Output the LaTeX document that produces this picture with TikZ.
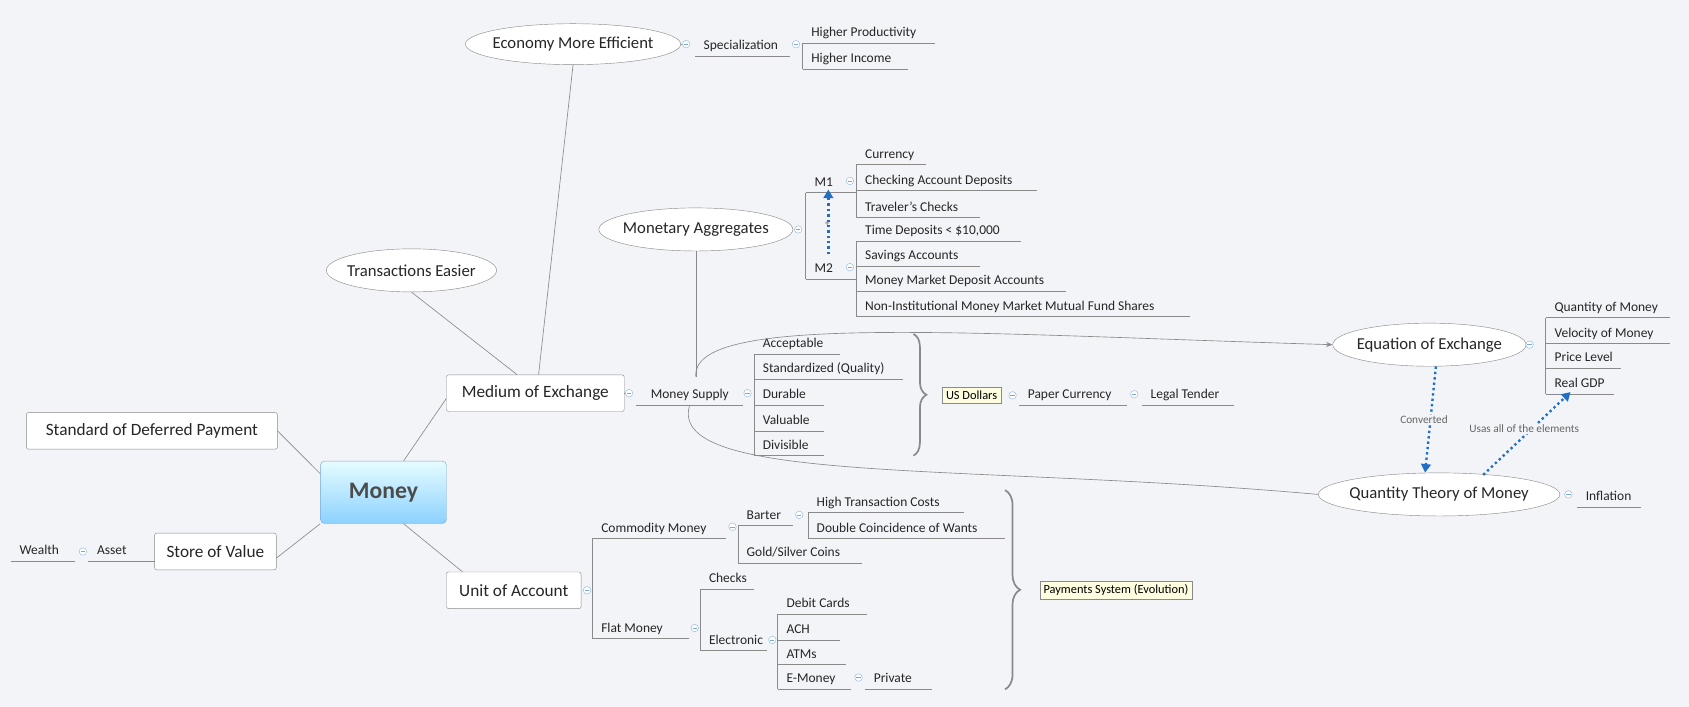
\documentclass[tikz,border=0pt]{standalone}
\usepackage{fontspec}
\setmainfont{Carlito}
\usetikzlibrary{shapes.geometric,arrows.meta,decorations.pathreplacing}
\definecolor{bg}{HTML}{F3F4F8}
\definecolor{ln}{HTML}{8A8A8A}
\definecolor{bl}{HTML}{1F6FC4}
\tikzset{
 big/.style={draw=ln,fill=white,font=\fontsize{16}{18}\selectfont,text=black!85},
 ell/.style={big,ellipse,inner sep=-4pt,font=\fontsize{15.5}{17}\selectfont},
 box/.style={big,rounded corners=2pt,inner sep=0pt},
 sm/.style={font=\fontsize{12.5}{14}\selectfont,text=black!85,inner sep=0pt,anchor=base west},
 conn/.style={draw=ln,line width=0.6pt},
 col/.style={circle,draw=bl!50,fill=white,minimum size=7pt,inner sep=0pt,path picture={\draw[bl!60] ([xshift=-2pt]path picture bounding box.center)--([xshift=2pt]path picture bounding box.center);}},
 dot/.style={draw=bl,line width=2.2pt,dash pattern=on 2.2pt off 2.8pt,-{Triangle[length=8pt,width=9pt]}},
 ybox/.style={draw=ln,fill=yellow!12,font=\fontsize{11.5}{13}\selectfont,inner sep=3.5pt},
 brc/.style={draw=ln,line width=1.6pt,decorate},
}
\newcommand{\myleaf}[5]{\draw[conn] (#2,#3)--(#4,#3); \node[sm] (#1) at (#2+8,#3-6) {#5};}
\begin{document}
\begin{tikzpicture}[x=1pt,y=-1pt]
\fill[bg] (0,0) rectangle (1568,656);
\useasboundingbox (0,0) rectangle (1568,656);
% Money
\node[draw=bl!60,rounded corners=4pt,minimum width=117pt,minimum height=58pt,top color=blue!10!cyan!10,bottom color=blue!40!cyan!45,font=\fontsize{22}{24}\selectfont\bfseries,text=black!70] (money) at (356,457) {Money};
% main boxes
\node[box,minimum width=165pt,minimum height=34pt] (moe) at (497,365) {Medium of Exchange};
\node[box,minimum width=233pt,minimum height=34pt] (sdp) at (141,400) {Standard of Deferred Payment};
\node[box,minimum width=113pt,minimum height=34pt] (sov) at (200,512) {Store of Value};
\node[box,minimum width=125pt,minimum height=34pt] (uoa) at (477,548) {Unit of Account};
\node[ell,minimum width=190pt,minimum height=38pt] (eme) at (532,41) {Economy More Efficient};
\node[ell,minimum width=158pt,minimum height=40pt] (te) at (382,251) {Transactions Easier};
\node[ell,minimum width=176pt,minimum height=40pt] (ma) at (646,213) {Monetary Aggregates};
\node[ell,minimum width=170pt,minimum height=40pt] (eoe) at (1327,320) {Equation of Exchange};
\node[ell,minimum width=200pt,minimum height=40pt] (qtm) at (1336,459) {Quantity Theory of Money};
% main connectors
\draw[conn] ([xshift=-40pt]money.north east) -- (moe.west|-0,370);
\draw[conn] ([xshift=-40pt]money.south east) -- ([xshift=15pt]uoa.north west);
\draw[conn] ([yshift=-12pt]money.north west) -- (sdp.east);
\draw[conn] (money.south west) -- ([yshift=-6pt]sov.east);
\draw[conn] ([xshift=3pt]moe.north) -- (eme.south);
\draw[conn] ([xshift=-17pt]moe.north) -- (te.south);
% Economy more efficient
\node[col] (c1) at (637,41) {};
\draw[conn] (eme.east)--(c1);
\node[sm] (spec) at (653,46) {Specialization};
\draw[conn] (645,52)--(733,52);
\node[col] (c2) at (739,41) {};
\draw[conn] (745,40)--(745,64);
\myleaf{hp}{745}{40}{868}{Higher Productivity}
\myleaf{hi}{745}{64}{843}{Higher Income}
% Monetary aggregates
\node[col] (c3) at (741,213) {};
\draw[conn] (748,179)--(748,259);
\myleaf{m1}{748}{179}{795}{M1}
\myleaf{m2}{748}{259}{795}{M2}
\node[col] at (789,168) {};
\node[col] at (789,248) {};
\draw[conn] (795,153)--(795,202);
\myleaf{cur}{795}{153}{860}{Currency}
\myleaf{cad}{795}{177}{963}{Checking Account Deposits}
\myleaf{tc}{795}{202}{910}{Traveler's Checks}
\draw[conn] (795,224)--(795,294);
\myleaf{td}{795}{224}{948}{Time Deposits < \$10,000}
\myleaf{sa}{795}{247}{910}{Savings Accounts}
\myleaf{mmda}{795}{270}{990}{Money Market Deposit Accounts}
\myleaf{ni}{795}{294}{1105}{Non-Institutional Money Market Mutual Fund Shares}
\draw[dot] (769,236) -- (769,176);
\node[font=\fontsize{9}{10}\selectfont,text=black!60] (plus) at (768,208) {+};
% Money supply
\node[col] (c4) at (584,365) {};
\draw[conn] (moe.east)--(c4);
\draw[conn] (590,376)--(690,376);
\node[sm] (ms) at (604,370) {Money Supply};
\draw[conn] (646,350)--(ma.south);
\node[col] (c5) at (694,365) {};
\draw[conn] (700,329)--(700,423);
\myleaf{acc}{700}{329}{780}{Acceptable}
\myleaf{std}{700}{352}{838}{Standardized (Quality)}
\myleaf{dur}{700}{376}{765}{Durable}
\myleaf{val}{700}{400}{765}{Valuable}
\myleaf{div}{700}{423}{765}{Divisible}
\draw[brc,decoration={brace,amplitude=12pt}] (848,310)--(848,423);
\node[ybox] (usd) at (902,367) {US Dollars};
\node[col] (c6) at (940,367) {};
\myleaf{pc}{946}{376}{1046}{Paper Currency}
\node[col] (c7) at (1053,366) {};
\myleaf{lt}{1060}{376}{1146}{Legal Tender}
% curves
\draw[conn,-{Stealth[length=6pt]}] (646,350) .. controls (640,290) and (900,310) .. (eoe.west);
\draw[conn] (640,377) .. controls (620,450) and (900,430) .. (qtm.west);
% Equation of exchange
\node[col] (c8) at (1420,320) {};
\draw[conn] (1435,295)--(1435,366);
\myleaf{qm}{1435}{295}{1550}{Quantity of Money}
\myleaf{vm}{1435}{319}{1550}{Velocity of Money}
\myleaf{pl}{1435}{342}{1505}{Price Level}
\myleaf{rg}{1435}{366}{1498}{Real GDP}
\node[col] (c9) at (1456,459) {};
\myleaf{inf}{1464}{471}{1523}{Inflation}
\draw[dot] ([xshift=6pt]eoe.south) -- ([xshift=-13pt]qtm.north);
\node[font=\fontsize{10.5}{12}\selectfont,text=black!60,fill=bg,inner sep=1pt] (conv) at (1322,390) {Converted};
\draw[dot] ([xshift=41pt,yshift=-2pt]qtm.north) -- (1458,364);
\node[font=\fontsize{10.5}{12}\selectfont,text=black!60,fill=bg,inner sep=1pt] (usas) at (1415,398) {Usas all of the elements};
% Store of value
\myleaf{asset}{82}{521}{144}{Asset}
\node[col] (c10) at (77,512) {};
\myleaf{wealth}{10}{521}{70}{Wealth}
% Unit of account
\node[col] (c11) at (545,548) {};
\draw[conn] (550,500)--(550,593);
\myleaf{cm}{550}{500}{674}{Commodity Money}
\node[col] (c12) at (680,489) {};
\myleaf{fm}{550}{593}{640}{Flat Money}
\node[col] (c13) at (645,583) {};
\draw[conn] (650,547)--(650,604);
\draw[conn] (685,488)--(685,523);
\myleaf{bar}{685}{488}{736}{Barter}
\node[col] (c14) at (742,478) {};
\myleaf{gsc}{685}{523}{800}{Gold/Silver Coins}
\draw[conn] (750,476)--(750,500);
\myleaf{htc}{750}{476}{895}{High Transaction Costs}
\myleaf{dcw}{750}{500}{933}{Double Coincidence of Wants}
\myleaf{chk}{650}{547}{700}{Checks}
\myleaf{ele}{650}{604}{712}{Electronic}
\node[col] (c15) at (717,594) {};
\draw[conn] (722,570)--(722,640);
\myleaf{dc}{722}{570}{805}{Debit Cards}
\myleaf{ach}{722}{594}{780}{ACH}
\myleaf{atm}{722}{617}{785}{ATMs}
\myleaf{em}{722}{640}{790}{E-Money}
\node[col] (c16) at (797,629) {};
\myleaf{pri}{803}{640}{865}{Private}
\draw[brc,decoration={brace,amplitude=14pt}] (933,455)--(933,640);
\node[ybox] (pse) at (1036,548) {Payments System (Evolution)};
\end{tikzpicture}
\end{document}
